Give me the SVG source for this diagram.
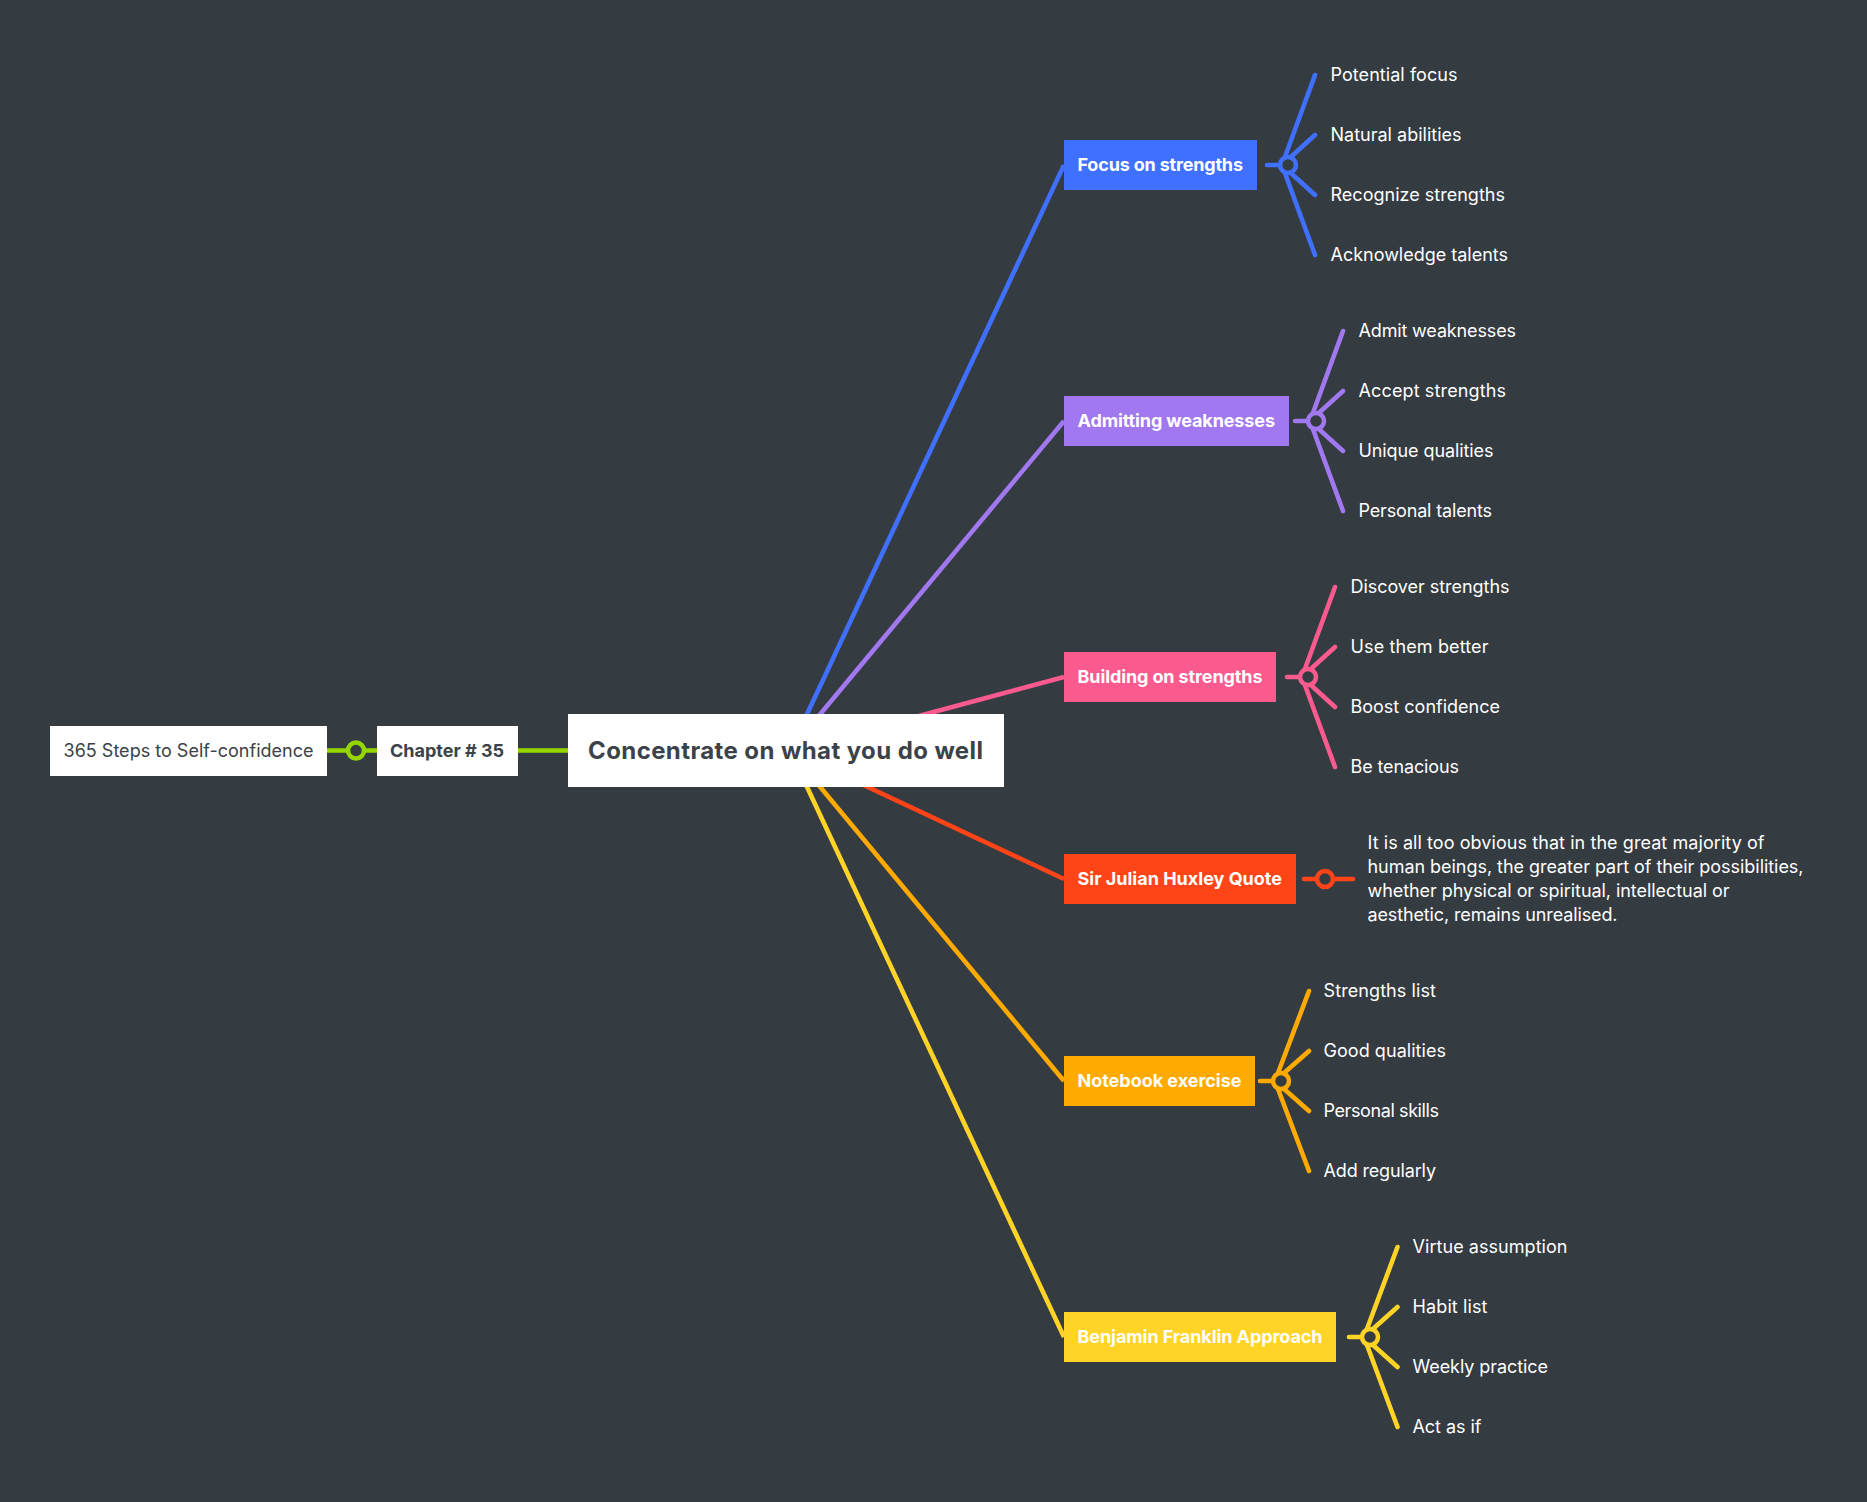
<svg xmlns="http://www.w3.org/2000/svg" width="1867" height="1502" viewBox="0 0 1867 1502">
<style>
text{font-family:Inter,"Liberation Sans",sans-serif;font-size:18px;fill:#fff}
.b{font-weight:700}
.d{fill:#3b4249}
.c{font-size:24px}
.l{fill:none;stroke-width:4.600;stroke-linecap:round}
.e{fill:none;stroke-width:4.600;stroke-linecap:butt}
.o{fill:#343b41;stroke-width:4.500}
.blue{stroke:#4070ff}.purple{stroke:#a178f0}.pink{stroke:#fa5a8e}.red{stroke:#ff4518}.orange{stroke:#ffaa00}.yellow{stroke:#ffd426}.green{stroke:#95d600}
</style>
<rect width="1867" height="1502" fill="#343b41"/>
<g id="connectors">
<path class="e green" d="M327 750.5H377M518 750.5H568"/>
<circle class="o green" cx="356" cy="750.5" r="8"/>
<path class="e blue" d="M790 750.5L1064 165"/>
<path class="e purple" d="M790 750.5L1064 421"/>
<path class="e pink" d="M790 750.5L1064 677"/>
<path class="e red" d="M790 750.5L1064 879"/>
<path class="e orange" d="M790 750.5L1064 1081"/>
<path class="e yellow" d="M790 750.5L1064 1337"/>
<path class="l blue" d="M1267 165H1288M1315 75L1282 165L1315 135M1315 195L1282 165L1315 255"/>
<circle class="o blue" cx="1288" cy="165" r="8"/>
<path class="l purple" d="M1295 421H1316M1343 331L1310 421L1343 391M1343 451L1310 421L1343 511"/>
<circle class="o purple" cx="1316" cy="421" r="8"/>
<path class="l pink" d="M1287 677H1308M1335 587L1302 677L1335 647M1335 707L1302 677L1335 767"/>
<circle class="o pink" cx="1308" cy="677" r="8"/>
<path class="l red" d="M1304 879H1353"/>
<circle class="o red" cx="1325" cy="879" r="8"/>
<path class="l orange" d="M1260 1081H1281M1309 991L1275 1081L1309 1051M1309 1111L1275 1081L1309 1171"/>
<circle class="o orange" cx="1281" cy="1081" r="8"/>
<path class="l yellow" d="M1349 1337H1370M1397.500 1247L1364 1337L1397.500 1307M1397.500 1367L1364 1337L1397.500 1427"/>
<circle class="o yellow" cx="1370" cy="1337" r="8"/>
</g>
<g id="book"><rect x="50" y="726" width="277" height="50" fill="#fff"/><text class="d" x="63.500" y="757" textLength="250">365 Steps to Self-confidence</text></g>
<g id="chapter"><rect x="377" y="726" width="141" height="50" fill="#fff"/><text class="d b" x="390" y="757" textLength="114">Chapter # 35</text></g>
<g id="central"><rect x="568" y="714" width="436" height="73" fill="#fff"/><text class="d b c" x="588" y="759" textLength="395">Concentrate on what you do well</text></g>
<g id="focus"><rect x="1064" y="140" width="193" height="50" fill="#4070ff"/><text class="b" x="1077.500" y="171" textLength="165.500">Focus on strengths</text></g>
<g id="focus-1"><text x="1330.500" y="81" textLength="127">Potential focus</text></g>
<g id="focus-2"><text x="1330.500" y="141" textLength="131">Natural abilities</text></g>
<g id="focus-3"><text x="1330.500" y="201" textLength="174.500">Recognize strengths</text></g>
<g id="focus-4"><text x="1330.500" y="261" textLength="177.500">Acknowledge talents</text></g>
<g id="admitting"><rect x="1064" y="396" width="225" height="50" fill="#a178f0"/><text class="b" x="1077.500" y="427" textLength="197.500">Admitting weaknesses</text></g>
<g id="admitting-1"><text x="1358.500" y="337" textLength="157.500">Admit weaknesses</text></g>
<g id="admitting-2"><text x="1358.500" y="397" textLength="147.500">Accept strengths</text></g>
<g id="admitting-3"><text x="1358.500" y="457" textLength="135">Unique qualities</text></g>
<g id="admitting-4"><text x="1358.500" y="517" textLength="133.500">Personal talents</text></g>
<g id="building"><rect x="1064" y="652" width="212" height="50" fill="#fa5a8e"/><text class="b" x="1077.500" y="683" textLength="185">Building on strengths</text></g>
<g id="building-1"><text x="1350.500" y="593" textLength="159">Discover strengths</text></g>
<g id="building-2"><text x="1350.500" y="653" textLength="138">Use them better</text></g>
<g id="building-3"><text x="1350.500" y="713" textLength="149.500">Boost confidence</text></g>
<g id="building-4"><text x="1350.500" y="773" textLength="108.500">Be tenacious</text></g>
<g id="huxley"><rect x="1064" y="854" width="232" height="50" fill="#ff4518"/><text class="b" x="1077.500" y="885" textLength="204.500">Sir Julian Huxley Quote</text></g>
<g id="huxley-1"><text x="1367.500" y="849" textLength="397">It is all too obvious that in the great majority of</text><text x="1367.500" y="873" textLength="436">human beings, the greater part of their possibilities,</text><text x="1367.500" y="897" textLength="362">whether physical or spiritual, intellectual or</text><text x="1367.500" y="921" textLength="250">aesthetic, remains unrealised.</text></g>
<g id="notebook"><rect x="1064" y="1056" width="191" height="50" fill="#ffaa00"/><text class="b" x="1077.500" y="1087" textLength="164">Notebook exercise</text></g>
<g id="notebook-1"><text x="1323.500" y="997" textLength="112.500">Strengths list</text></g>
<g id="notebook-2"><text x="1323.500" y="1057" textLength="122.500">Good qualities</text></g>
<g id="notebook-3"><text x="1323.500" y="1117" textLength="115.500">Personal skills</text></g>
<g id="notebook-4"><text x="1323.500" y="1177" textLength="112.500">Add regularly</text></g>
<g id="franklin"><rect x="1064" y="1312" width="272" height="50" fill="#ffd426"/><text class="b" x="1077.500" y="1343" textLength="245">Benjamin Franklin Approach</text></g>
<g id="franklin-1"><text x="1412.500" y="1253" textLength="155">Virtue assumption</text></g>
<g id="franklin-2"><text x="1412.500" y="1313" textLength="75">Habit list</text></g>
<g id="franklin-3"><text x="1412.500" y="1373" textLength="135.500">Weekly practice</text></g>
<g id="franklin-4"><text x="1412.500" y="1433" textLength="69">Act as if</text></g>
</svg>
